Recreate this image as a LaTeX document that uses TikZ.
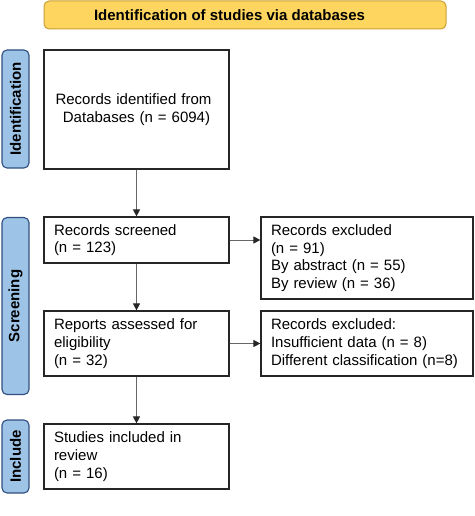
\documentclass[tikz,border=0pt]{standalone}
\usepackage{fontspec}
\setmainfont{Liberation Sans}
\usetikzlibrary{arrows.meta}
\definecolor{titlefill}{HTML}{FDD55F}
\definecolor{titledraw}{HTML}{C9A033}
\definecolor{sidefill}{HTML}{9DC3E6}
\definecolor{sidedraw}{HTML}{2F4F7F}
\definecolor{arrowgray}{HTML}{666666}
\begin{document}
\begin{tikzpicture}[x=1pt,y=-1pt,
  every node/.style={font=\fontsize{15}{17.7}\selectfont},
  flowbox/.style={draw=black!85, line width=1.2pt, rectangle, inner xsep=10pt, inner ysep=0pt,
    minimum width=185pt, text width=165pt, align=left},
  exbox/.style={draw=black!85, line width=1.2pt, rectangle, inner xsep=10pt, inner ysep=0pt,
    minimum width=212pt, text width=192pt, align=left},
  sidebar/.style={draw=sidedraw, fill=sidefill, line width=1.1pt, rounded corners=5pt, minimum width=27pt,
    inner sep=0pt, font=\fontsize{15}{17.7}\selectfont\bfseries},
  flowarrow/.style={draw=arrowgray, line width=1pt, -{Triangle[width=7pt,length=7pt,color=black!85]}}
]
\useasboundingbox (0,0) rectangle (474,516);

% title
\node[draw=titledraw, fill=titlefill, line width=1pt, rounded corners=5pt,
  minimum width=402pt, minimum height=28pt, inner sep=0pt, font=\fontsize{15}{17.7}\selectfont\bfseries]
  (title) at (245,15) {\hspace*{-31pt}Identification of studies via databases};

% side bars
\node[sidebar, minimum height=118pt] (sid) at (15.5,109) {};
\node[rotate=90, font=\fontsize{15}{17.7}\selectfont\bfseries] (sidt) at (sid.center) {Identification};
\node[sidebar, minimum height=177pt] (sscr) at (15.5,306) {};
\node[rotate=90, font=\fontsize{15}{17.7}\selectfont\bfseries] (sscrt) at (sscr.center) {Screening};
\node[sidebar, minimum height=73pt] (sinc) at (15.5,456.5) {};
\node[rotate=90, font=\fontsize{15}{17.7}\selectfont\bfseries] (sinct) at (sinc.center) {Include};

% boxes
\node[flowbox, minimum height=119pt, align=center] (a) at (136.5,109.5)
  {\hspace*{-6pt}Records identified from\\Databases (n = 6094)};
\node[flowbox, minimum height=46pt] (b) at (136.5,240)
  {Records screened\\(n = 123)};
\node[exbox, minimum height=82pt] (c) at (367,258)
  {Records excluded\\(n = 91)\\By abstract (n = 55)\\By review (n = 36)};
\node[flowbox, minimum height=65pt] (d) at (136.5,343.5)
  {Reports assessed for\\eligibility\\(n = 32)};
\node[exbox, minimum height=65pt] (e) at (367,343.5)
  {Records excluded:\\Insufficient data (n = 8)\\Different classification (n=8)};
\node[flowbox, minimum height=65pt] (f) at (136.5,456.5)
  {Studies included in\\review\\(n = 16)};

% arrows
\draw[flowarrow] (a) -- (b);
\draw[flowarrow] (b) -- (d);
\draw[flowarrow] (d) -- (f);
\draw[flowarrow] (b.east) -- (b.east -| c.west);
\draw[flowarrow] (d) -- (e);
\end{tikzpicture}
\end{document}
